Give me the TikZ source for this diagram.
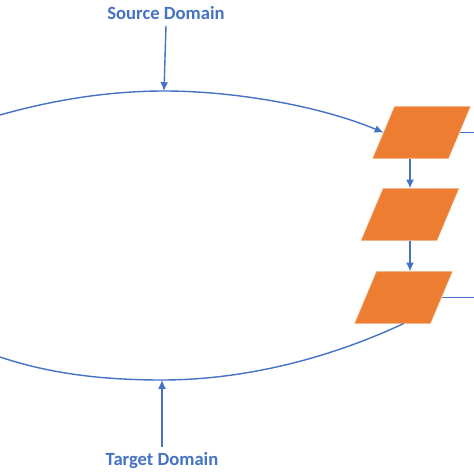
\documentclass[tikz,border=0pt]{standalone}
\usepackage{fontspec}
\setmainfont{Carlito}
\usetikzlibrary{shapes.geometric, arrows.meta, calc}

\definecolor{lineblue}{HTML}{4472C4}
\definecolor{boxorange}{HTML}{ED7D31}

\begin{document}
\begin{tikzpicture}[x=0.02cm, y=-0.02cm,
    flow/.style={draw=lineblue, line width=0.8pt, -{Latex[length=5pt,width=4.5pt]}},
    link/.style={draw=lineblue, line width=0.8pt},
    stage/.style={trapezium, trapezium left angle=68, trapezium right angle=112,
        trapezium stretches=true, minimum width=1.94cm, minimum height=1.03cm,
        inner sep=1pt, fill=boxorange, draw=boxorange!80!white, line width=0.4pt},
    label/.style={text=lineblue, font=\fontsize{10.6pt}{12pt}\selectfont\bfseries}]
\useasboundingbox (0,0) rectangle (474,474);

% the three stages on the right
\node[stage] (p1) at (421.5,132.5) {};
\node[stage] (p2) at (410,214.5) {};
\node[stage] (p3) at (403.5,297.5) {};
\draw[flow] (p2.north |- p1.south) -- (p2.north);
\draw[flow] (p2.south) -- (p2.south |- p3.north);

% lines leaving to the right
\coordinate (r1) at (474,132.5);
\coordinate (r3) at (474,297.5);
\draw[link] (p1.east) -- (r1);
\draw[link] (p3.east) -- (r3);

% the two domains
\node[label] (src) at (166,13) {Source Domain};
\node[label] (tgt) at (162,461) {Target Domain};
\coordinate (top) at (164,91);
\coordinate (bot) at (162,380);
\coordinate (L1) at (0,115);
\coordinate (L2) at (0,357);

\draw[flow] (L1) .. controls (60,98) and (115,91) .. (top)
    .. controls (235,91) and (320,106) .. (p1.west);
\draw[link] (p3.south) .. controls (330,358) and (245,380) .. (bot)
    .. controls (95,380) and (45,372) .. (L2);
\draw[flow] (src.south) -- (top);
\draw[flow] (tgt.north) -- (bot);
\end{tikzpicture}
\end{document}
